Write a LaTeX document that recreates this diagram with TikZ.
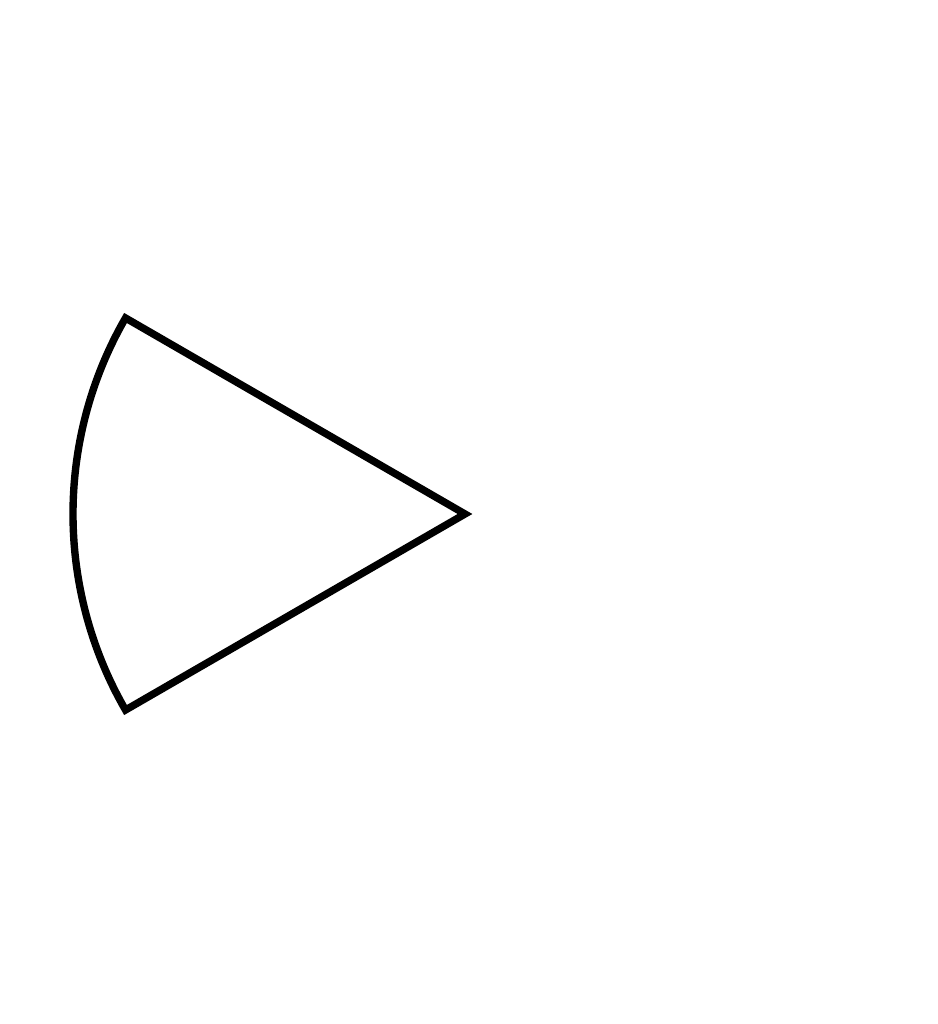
\documentclass[tikz,border=0pt]{standalone}
\usepackage{tikz}
\tikzstyle{sector} = [draw,line width=2.1pt,fill=none]
\begin{document}
\begin{tikzpicture}
		% Fix the page size first
		\useasboundingbox (0,0) rectangle (9.37,10.24);
		
		\coordinate (apex) at (4.65,5.10);
		
		% The sector itself
		\path[sector] (apex) -- ++(150:3.92)
			arc[start angle=150, end angle=210, radius=3.92] -- cycle;
		\end{tikzpicture}
\end{document}
